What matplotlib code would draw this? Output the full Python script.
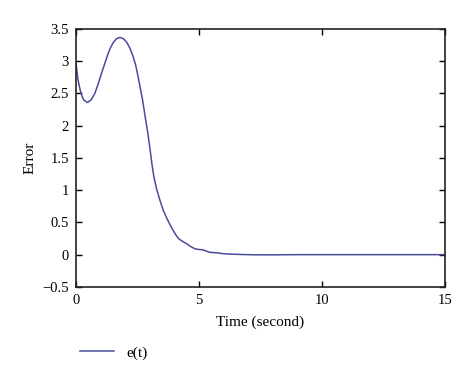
import numpy as np
import matplotlib.pyplot as plt

# values
t = [0.0, 0.04, 0.09, 0.16, 0.23, 0.32, 0.47, 0.62, 0.77, 0.9, 1.04, 1.18, 1.31,
     1.42, 1.52, 1.65, 1.79, 1.93, 2.06, 2.2, 2.33, 2.43, 2.53, 2.63, 2.71, 2.78,
     2.85, 2.91, 2.97, 3.04, 3.10, 3.17, 3.28, 3.41, 3.55, 3.7, 3.9, 4.09, 4.2,
     4.36, 4.5, 4.65, 4.84, 5.0, 5.17, 5.3, 5.45, 5.7, 5.98, 6.3, 6.7, 7.2, 8.0,
     9.0, 15.0]
e = [3.00, 2.86, 2.71, 2.58, 2.48, 2.40, 2.36, 2.40, 2.50, 2.64, 2.81, 2.97, 3.12,
     3.22, 3.29, 3.35, 3.37, 3.35, 3.30, 3.20, 3.07, 2.94, 2.76, 2.56, 2.40, 2.23,
     2.06, 1.92, 1.76, 1.56, 1.38, 1.21, 1.02, 0.85, 0.69, 0.56, 0.41, 0.29, 0.24,
     0.20, 0.17, 0.13, 0.09, 0.08, 0.075, 0.055, 0.035, 0.03, 0.015, 0.008, 0.003,
     -0.002, -0.003, 0.0, 0.0]

plt.rcParams['font.family'] = ['Liberation Serif', 'DejaVu Serif']

fig = plt.figure(figsize=(4.74, 3.82), dpi=100)
ax = fig.add_axes([0.160, 0.249, 0.779, 0.675])

ax.plot(t, e, color='#4b4b9b', linewidth=1.1, label='e(t)')

ax.set_xlim(0, 15)
ax.set_ylim(-0.5, 3.5)
ax.set_xticks([0, 5, 10, 15])
ax.set_yticks(np.arange(-0.5, 3.51, 0.5))
ax.set_yticklabels(['\u22120.5', '0', '0.5', '1', '1.5', '2', '2.5', '3', '3.5'])
ax.tick_params(direction='in', top=True, right=True, length=4, width=1,
               labelsize=10.5, pad=5)
for s in ax.spines.values():
    s.set_linewidth(1.2)
    s.set_color('#222222')

ax.set_xlabel('Time (second)', fontsize=11, labelpad=6)
ax.set_ylabel('Error', fontsize=11)

fig.legend(loc='center left', bbox_to_anchor=(0.14, 0.076), frameon=False,
           fontsize=11, handlelength=2.2)

fig.savefig('out.png', dpi=100)
